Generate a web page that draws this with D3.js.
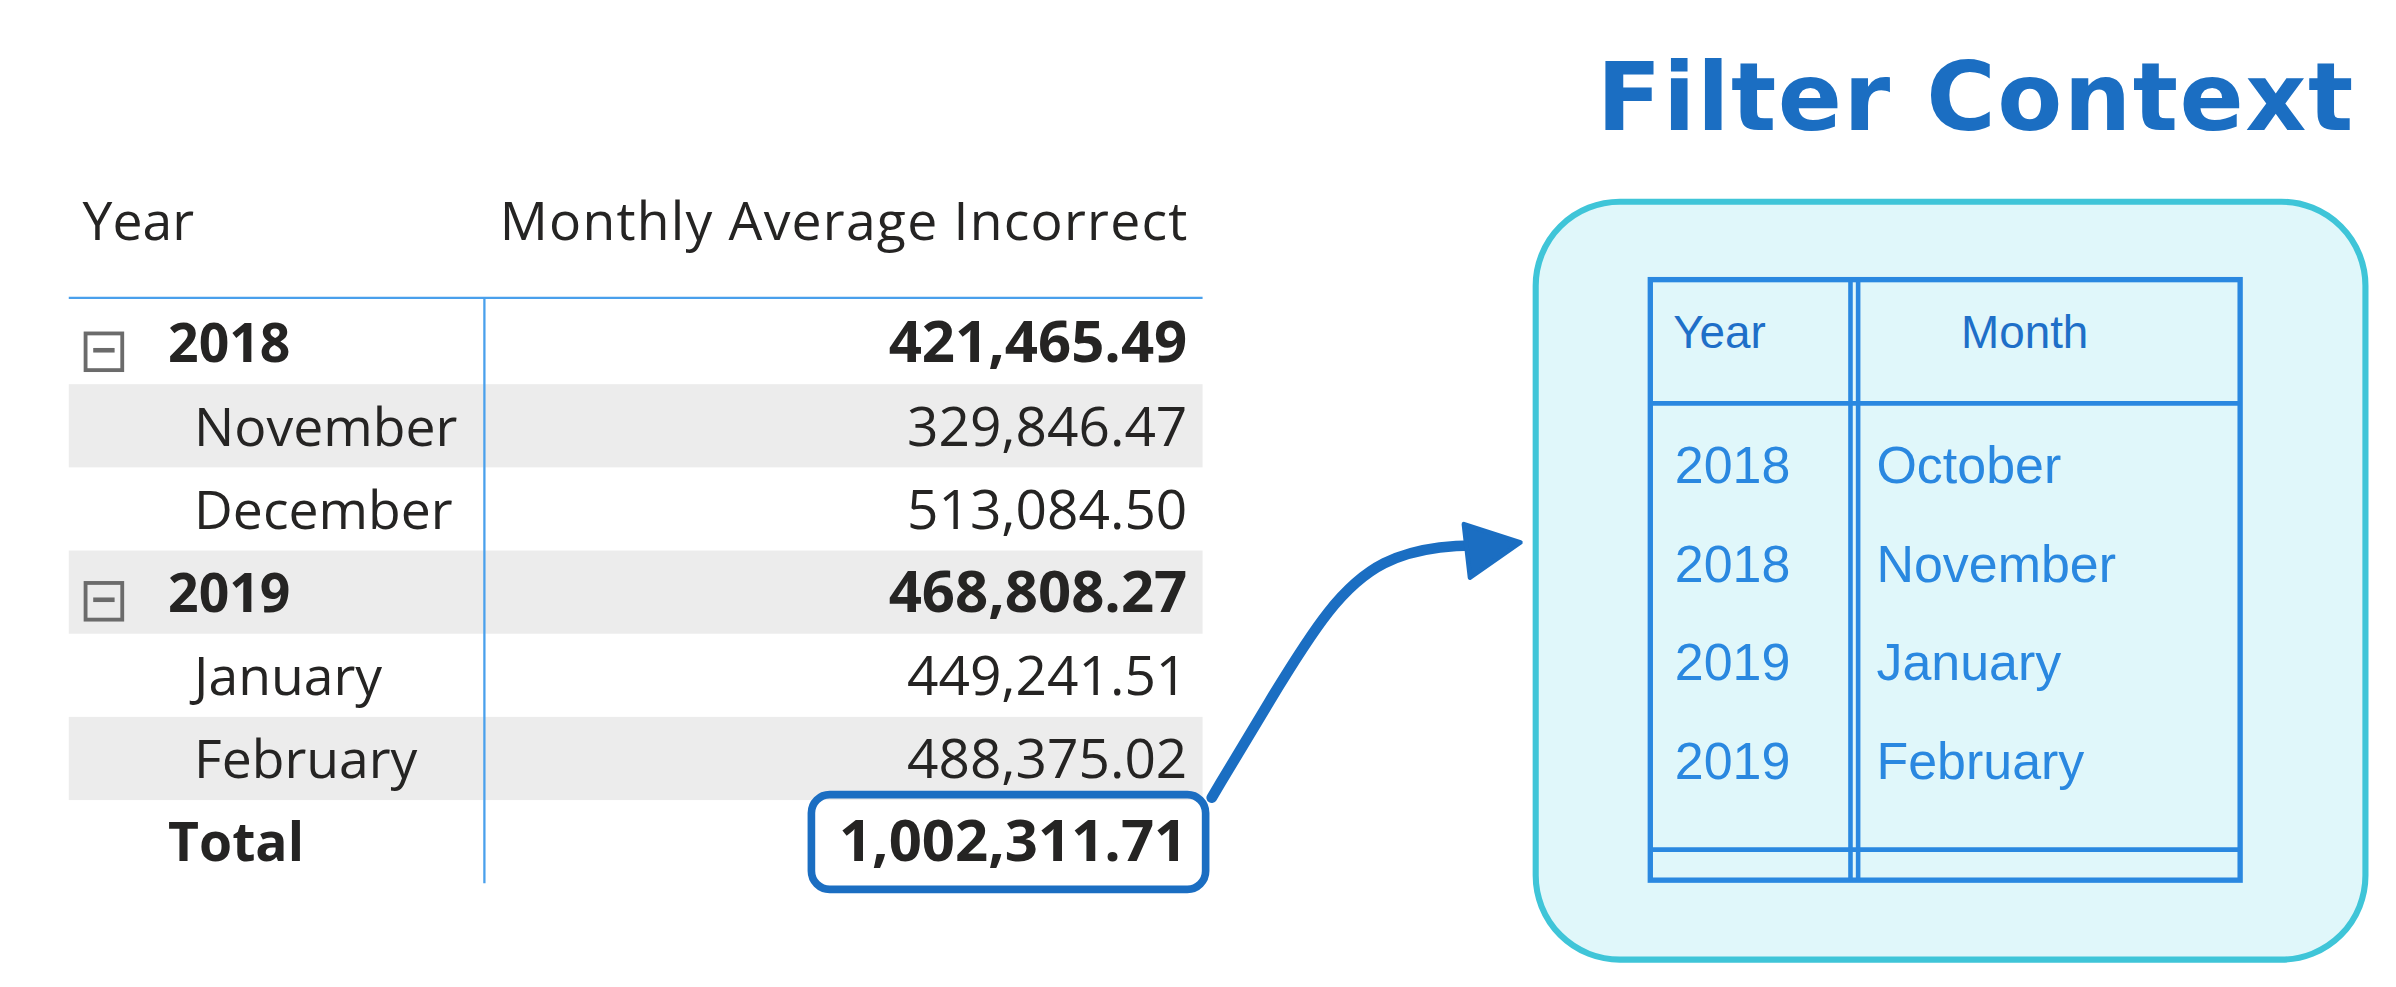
<!DOCTYPE html>
<html><head><meta charset="utf-8">
<script src="https://cdn.jsdelivr.net/npm/d3@7"></script>
<style>body{margin:0;background:#fff}</style></head>
<body><svg id="chart" width="2396" height="987"></svg>
<script>
// matrix rows
const rowLabels = ["2018", "November", "December", "2019", "January", "February", "Total"];
const rowLevels = ["year", "month", "month", "year", "month", "month", "total"];
const rowValues = [421465.49, 329846.47, 513084.50, 468808.27, 449241.51, 488375.02, 1002311.71];
// filter context sketch
const ctxYears = ["2018", "2018", "2019", "2019"];
const ctxMonths = ["October", "November", "January", "February"];

const svg = d3.select("svg#chart");
// laid out in 1568-wide units, scaled up to the window
const g = svg.append("g").attr("transform", "scale(" + 2396 / 1568 + ")");
const font = "'Segoe UI', 'Open Sans', 'Noto Sans', sans-serif";
const fmt = d3.format(",.2f");

const y = d3.scaleBand().domain(d3.range(rowLabels.length)).range([197, 578]);

// header
g.append("text").attr("x", 54).attr("y", 157).text("Year")
  .attr("font-family", font).attr("font-size", 35).attr("fill", "#252423");
g.append("text").attr("x", 777).attr("y", 157).attr("text-anchor", "end")
  .text("Monthly Average Incorrect").attr("textLength", 450)
  .attr("font-family", font).attr("font-size", 35).attr("fill", "#252423");

// banded rows
g.selectAll("rect.band").data(rowLabels).enter().append("rect")
  .attr("class", "band")
  .attr("x", 45).attr("width", 742)
  .attr("y", (d, i) => y(i)).attr("height", y.bandwidth())
  .attr("fill", (d, i) => (i % 2 == 1 ? "#ececec" : "none"));

g.append("line").attr("x1", 45).attr("x2", 787).attr("y1", 195).attr("y2", 195)
  .attr("stroke", "#4aa0ec").attr("stroke-width", 1.5);
g.append("line").attr("x1", 317).attr("x2", 317).attr("y1", 195).attr("y2", 578)
  .attr("stroke", "#4aa0ec").attr("stroke-width", 1.5);

// collapse icons
rowLevels.forEach(function (lvl, i) {
  if (lvl != "year") return;
  const cy = y(i) + y.bandwidth() / 2 + 6;
  g.append("rect").attr("x", 56).attr("y", cy - 12).attr("width", 24).attr("height", 24)
    .attr("fill", "none").attr("stroke", "#6b6b6b").attr("stroke-width", 2.5);
  g.append("line").attr("x1", 61).attr("x2", 75).attr("y1", cy - 1).attr("y2", cy - 1)
    .attr("stroke", "#6b6b6b").attr("stroke-width", 3);
});

const rows = g.selectAll("g.row").data(rowLabels).enter().append("g").attr("class", "row");
rows.append("text")
  .attr("x", (d, i) => (rowLevels[i] == "month" ? 127 : 110))
  .attr("y", (d, i) => y(i) + y.bandwidth() / 2 + 13)
  .attr("font-family", font).attr("font-size", 35)
  .attr("font-weight", (d, i) => (rowLevels[i] == "month" ? 400 : 700))
  .attr("fill", "#252423")
  .text((d) => d);
rows.append("text")
  .attr("x", 777).attr("text-anchor", "end")
  .attr("y", (d, i) => y(i) + y.bandwidth() / 2 + 13)
  .attr("font-family", font)
  .attr("font-size", (d, i) => (rowLevels[i] == "month" ? 36 : 38))
  .attr("font-weight", (d, i) => (rowLevels[i] == "month" ? 400 : 700))
  .attr("fill", "#252423")
  .text((d, i) => fmt(rowValues[i]));

// highlight around total
const blue = "#1b6ec2";
g.append("rect").attr("x", 531).attr("y", 520).attr("width", 258).attr("height", 62)
  .attr("rx", 12).attr("fill", "none").attr("stroke", blue).attr("stroke-width", 5);

// arrow
g.append("path")
  .attr("d", d3.line().curve(d3.curveBasis)([[793, 522], [830, 460], [870, 395], [905, 365], [945, 357], [968, 357]]))
  .attr("fill", "none").attr("stroke", blue).attr("stroke-width", 7).attr("stroke-linecap", "round");
g.append("path").attr("d", d3.line()([[958, 343], [995, 355], [962, 378]]) + "Z")
  .attr("fill", blue).attr("stroke", blue).attr("stroke-width", 3).attr("stroke-linejoin", "round");

// title
g.append("text").attr("x", 1045).attr("y", 85)
  .text("Filter Context").attr("textLength", 495)
  .attr("font-family", "'Comic Sans MS', 'DejaVu Sans', sans-serif").attr("font-size", 62)
  .attr("font-weight", 700).attr("fill", blue);

// context box
g.append("rect").attr("x", 1005).attr("y", 132).attr("width", 543).attr("height", 496)
  .attr("rx", 55).attr("fill", "#e0f7fa").attr("stroke", "#3fc5d8").attr("stroke-width", 4);

const tblue = "#2a88e0";
g.append("rect").attr("x", 1080).attr("y", 183).attr("width", 386).attr("height", 393)
  .attr("fill", "none").attr("stroke", tblue).attr("stroke-width", 3.5);
[[1211, 1211, 183, 576], [1216, 1216, 183, 576], [1080, 1466, 264, 264], [1080, 1466, 556, 556]]
  .forEach(function (l) {
    g.append("line").attr("x1", l[0]).attr("x2", l[1]).attr("y1", l[2]).attr("y2", l[3])
      .attr("stroke", tblue).attr("stroke-width", 3);
  });

const hand = "'Comic Sans MS', 'Liberation Sans', sans-serif";
g.append("text").attr("x", 1095).attr("y", 228).text("Year")
  .attr("font-family", hand).attr("font-size", 30).attr("fill", "#1e6fc8");
g.append("text").attr("x", 1325).attr("y", 228).attr("text-anchor", "middle").text("Month")
  .attr("font-family", hand).attr("font-size", 30).attr("fill", "#1e6fc8");

const ry = d3.scalePoint().domain(d3.range(ctxYears.length)).range([316, 510]);
g.selectAll("text.cy").data(ctxYears).enter().append("text").attr("class", "cy")
  .attr("x", 1096).attr("y", (d, i) => ry(i)).text((d) => d)
  .attr("font-family", hand).attr("font-size", 34).attr("fill", "#2a88e0");
g.selectAll("text.cm").data(ctxMonths).enter().append("text").attr("class", "cm")
  .attr("x", 1228).attr("y", (d, i) => ry(i)).text((d) => d)
  .attr("font-family", hand).attr("font-size", 34).attr("fill", "#2a88e0");
</script>
</body></html>
